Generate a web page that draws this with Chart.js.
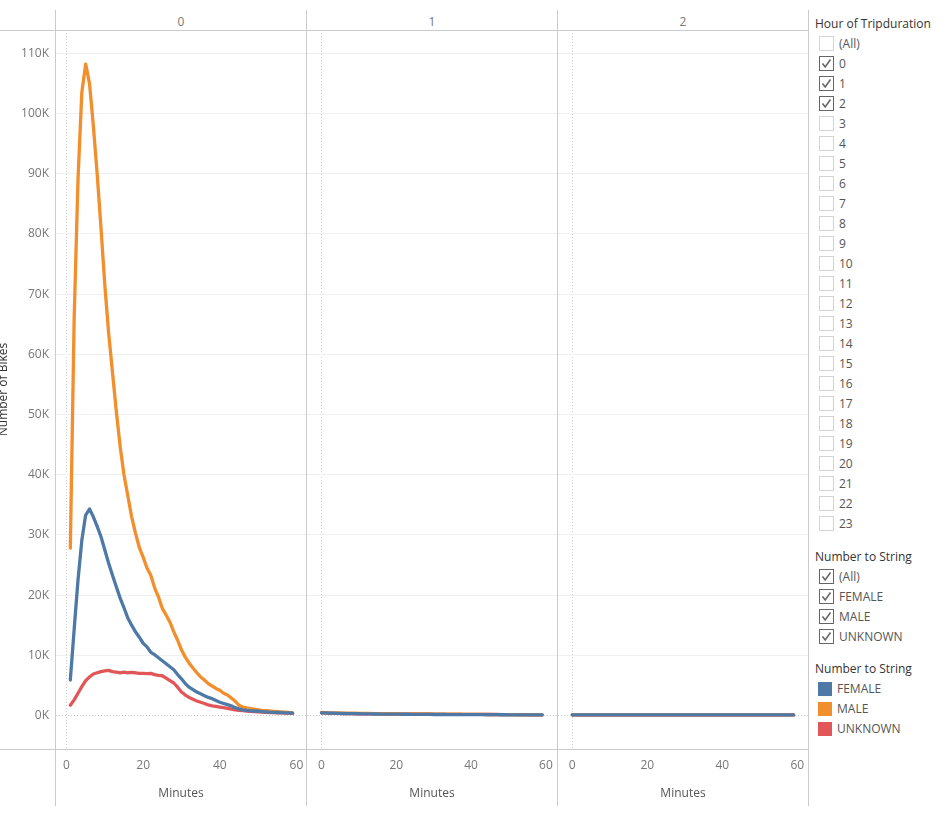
<!DOCTYPE html>
<html>
<head>
<meta charset="utf-8">
<title>Number of Bikes by Minutes</title>
<script src="https://cdn.jsdelivr.net/npm/chart.js@4"></script>
<style>
    html, body { margin: 0; padding: 0; background: #fff; overflow: hidden; width: 952px; height: 816px; }
    body { font-family: "Open Sans", sans-serif; font-size: 12px; color: #555; position: relative; }
    canvas { position: absolute; top: 0; }
    .vline { position: absolute; top: 10px; width: 1px; height: 796px; background: #cbcbcb; }
    .hline { position: absolute; left: 0; width: 808px; height: 1px; background: #cbcbcb; }
    .head { position: absolute; top: 13px; width: 250px; text-align: center; color: #777; }
    .title { position: absolute; left: 815px; color: #333; white-space: nowrap; line-height: 16px; }
    .row { position: absolute; left: 819px; height: 16px; line-height: 16px; white-space: nowrap; }
    .box { position: absolute; left: 0; top: 0; width: 13px; height: 13px; border: 1px solid #d4d4d4; background: #fff; }
    .box.on { border-color: #666; }
    .box svg { position: absolute; left: 0; top: 0; }
    .row span { position: absolute; left: 20px; top: 0; }
    .swatch { position: absolute; left: 818px; width: 14px; height: 14px; }
    .key { position: absolute; left: 837px; height: 16px; line-height: 16px; }
</style>
</head>
<body>
<div class="vline" style="left:55px"></div>
<div class="vline" style="left:306px"></div>
<div class="vline" style="left:557px"></div>
<div class="vline" style="left:808px"></div>
<div class="hline" style="top:30px"></div>
<div class="hline" style="top:749px"></div>
<div class="head" style="left:56px">0</div>
<div class="head" style="left:307px">1</div>
<div class="head" style="left:558px">2</div>

<canvas id="panel0" width="310" height="806" style="left:-4px"></canvas>
<canvas id="panel1" width="250" height="806" style="left:307px"></canvas>
<canvas id="panel2" width="250" height="806" style="left:558px"></canvas>

<script>
const seriesNames = ['FEMALE', 'MALE', 'UNKNOWN'];
const seriesColors = ['#4e79a7', '#f28e2b', '#e15759'];

const hourOptions = ['(All)', '0', '1', '2', '3', '4', '5', '6', '7', '8', '9', '10', '11',
    '12', '13', '14', '15', '16', '17', '18', '19', '20', '21', '22', '23'];
const hourChecked = ['0', '1', '2'];
const genderOptions = ['(All)', 'FEMALE', 'MALE', 'UNKNOWN'];

const yTickValues = [0, 10000, 20000, 30000, 40000, 50000, 60000, 70000, 80000, 90000, 100000, 110000];
const xTickValues = [0, 20, 40, 60];

const minutesHour0 = [1, 2, 3, 4, 5, 6, 7, 8, 9, 10, 11, 12, 13, 14, 15, 16, 17, 18, 19, 20,
    21, 22, 23, 24, 25, 26, 27, 28, 29, 30, 31, 32, 33, 34, 35, 36, 37, 38, 39, 40,
    41, 42, 43, 44, 45, 46, 47, 48, 49, 50, 51, 52, 53, 54, 55, 56, 57, 58, 59];
const minutesRest = [0, 1, 2, 3, 4, 5, 6, 7, 8, 9, 10, 11, 12, 13, 14, 15, 16, 17, 18, 19, 20,
    21, 22, 23, 24, 25, 26, 27, 28, 29, 30, 31, 32, 33, 34, 35, 36, 37, 38, 39, 40,
    41, 42, 43, 44, 45, 46, 47, 48, 49, 50, 51, 52, 53, 54, 55, 56, 57, 58, 59];

const femaleHour0 = [5900, 14300, 22500, 29100, 33300, 34300, 33000, 31400, 29700, 27500,
    25300, 23300, 21400, 19500, 17900, 16200, 15000, 13900, 13000, 12000,
    11400, 10500, 10100, 9600, 9100, 8600, 8100, 7600, 6800, 6100,
    5300, 4700, 4300, 3900, 3600, 3300, 3000, 2800, 2500, 2200,
    2000, 1800, 1600, 1300, 1100, 950, 850, 780, 750, 720,
    660, 600, 550, 520, 500, 480, 450, 430, 400];
const maleHour0 = [27800, 66000, 89000, 103500, 108200, 105000, 98000, 90000, 81000, 71500,
    63500, 57000, 50500, 44700, 40000, 36500, 33000, 30300, 27900, 26300,
    24500, 23300, 21200, 19700, 17800, 16700, 15500, 13900, 12500, 10900,
    9700, 8700, 7900, 7100, 6400, 5900, 5300, 4900, 4500, 4200,
    3700, 3400, 2900, 2400, 1700, 1400, 1250, 1150, 1050, 950,
    850, 800, 750, 700, 650, 600, 550, 500, 450];
const unknownHour0 = [1700, 2600, 3700, 4800, 5800, 6400, 6900, 7100, 7300, 7400,
    7500, 7300, 7200, 7100, 7200, 7100, 7150, 7100, 7000, 7000,
    6950, 7000, 6800, 6650, 6600, 6200, 5800, 5400, 4700, 3900,
    3400, 3000, 2700, 2400, 2200, 2000, 1750, 1600, 1500, 1400,
    1300, 1200, 1050, 950, 850, 800, 750, 700, 650, 600,
    570, 540, 500, 480, 450, 430, 400, 380, 350];

const femaleHour1 = [450, 420, 400, 380, 360, 340, 330, 320, 310, 300,
    290, 280, 270, 260, 250, 245, 240, 235, 230, 225,
    220, 215, 210, 205, 200, 195, 190, 185, 180, 175,
    170, 170, 165, 165, 160, 160, 155, 155, 150, 150,
    145, 145, 140, 140, 135, 135, 130, 130, 125, 125,
    120, 120, 115, 115, 110, 110, 105, 105, 100, 100];
const maleHour1 = [520, 490, 470, 450, 430, 410, 400, 390, 380, 370,
    360, 350, 340, 330, 320, 315, 310, 305, 300, 295,
    290, 285, 280, 275, 270, 265, 260, 255, 250, 245,
    240, 235, 230, 225, 220, 215, 210, 205, 200, 195,
    190, 185, 180, 175, 170, 165, 160, 155, 150, 145,
    140, 135, 130, 125, 120, 115, 110, 105, 100, 100];
const unknownHour1 = [430, 400, 380, 360, 345, 330, 320, 310, 300, 290,
    285, 275, 270, 265, 260, 255, 250, 245, 240, 235,
    230, 225, 220, 220, 215, 215, 210, 210, 205, 205,
    200, 200, 195, 195, 190, 190, 190, 185, 185, 185,
    180, 180, 175, 175, 170, 170, 165, 165, 160, 160,
    155, 150, 145, 140, 135, 130, 125, 120, 115, 110];

const femaleHour2 = [110, 110, 110, 110, 110, 110, 110, 110, 110, 110,
    110, 110, 110, 110, 110, 110, 110, 110, 110, 110,
    105, 105, 105, 105, 105, 105, 105, 105, 105, 105,
    100, 100, 100, 100, 100, 100, 100, 100, 100, 100,
    100, 100, 100, 100, 100, 100, 100, 100, 100, 100,
    95, 95, 95, 95, 95, 95, 95, 95, 95, 95];
const maleHour2 = [120, 120, 120, 120, 120, 120, 120, 120, 115, 115,
    115, 115, 115, 115, 115, 115, 110, 110, 110, 110,
    110, 110, 110, 110, 105, 105, 105, 105, 105, 105,
    105, 105, 100, 100, 100, 100, 100, 100, 100, 100,
    100, 100, 100, 100, 100, 100, 100, 100, 95, 95,
    95, 95, 95, 95, 95, 95, 95, 95, 95, 95];
const unknownHour2 = [110, 110, 110, 110, 105, 105, 105, 105, 105, 105,
    105, 105, 105, 105, 105, 105, 105, 105, 105, 105,
    100, 100, 100, 100, 100, 100, 100, 100, 100, 100,
    100, 100, 100, 100, 100, 100, 100, 100, 100, 100,
    95, 95, 95, 95, 95, 95, 95, 95, 95, 95,
    95, 95, 95, 95, 95, 95, 95, 95, 95, 95];

const yMin = -5565;
const yMax = 113870;

const FONT = '"Open Sans", sans-serif';
const TICK_COLOR = '#777';

function toPoints(minutes, values) {
    return minutes.map((m, i) => ({ x: m, y: values[i] }));
}

function createPanel(id, minutes, female, male, unknown, xMin, xMax, showY) {
    const ctx = document.getElementById(id).getContext('2d');
    const lists = [female, male, unknown];
    return new Chart(ctx, {
        type: 'line',
        data: {
            datasets: seriesNames.map((name, i) => ({
                label: name,
                data: toPoints(minutes, lists[i]),
                borderColor: seriesColors[i],
                backgroundColor: seriesColors[i],
                borderWidth: 3.3,
                pointRadius: 0,
                tension: 0,
                borderCapStyle: 'round',
                borderJoinStyle: 'round'
            }))
        },
        options: {
            responsive: false,
            animation: false,
            devicePixelRatio: 1,
            layout: { padding: { top: 30, left: 0, right: 0, bottom: 0 } },
            plugins: { legend: { display: false }, tooltip: { enabled: false } },
            scales: {
                x: {
                    type: 'linear',
                    min: xMin,
                    max: xMax,
                    afterBuildTicks: axis => { axis.ticks = xTickValues.map(v => ({ value: v })); },
                    afterFit: axis => {
                        axis.height = 57;
                        axis.paddingLeft = 0;
                        axis.paddingRight = 0;
                    },
                    border: { display: false, dash: [1, 2] },
                    grid: {
                        drawTicks: false,
                        color: c => (c.tick && c.tick.value === 0) ? '#cfcfcf' : 'rgba(0,0,0,0)'
                    },
                    ticks: {
                        autoSkip: false,
                        maxRotation: 0,
                        padding: 9,
                        color: TICK_COLOR,
                        font: { family: FONT, size: 12 }
                    },
                    title: {
                        display: true,
                        text: 'Minutes',
                        color: '#555',
                        padding: { top: 0, bottom: 5 },
                        font: { family: FONT, size: 12 }
                    }
                },
                y: {
                    min: yMin,
                    max: yMax,
                    afterBuildTicks: axis => { axis.ticks = yTickValues.map(v => ({ value: v })); },
                    afterFit: axis => {
                        axis.width = showY ? 60 : 0;
                        axis.paddingTop = 0;
                        axis.paddingBottom = 0;
                    },
                    border: {
                        display: false,
                        dash: c => (c.tick && c.tick.value === 0) ? [1, 2] : []
                    },
                    grid: {
                        drawTicks: false,
                        color: c => (c.tick && c.tick.value === 0) ? '#c4c4c4' : '#f0f0f0'
                    },
                    ticks: {
                        display: showY,
                        autoSkip: false,
                        padding: 7,
                        color: TICK_COLOR,
                        font: { family: FONT, size: 12 },
                        callback: v => (v / 1000) + 'K'
                    },
                    title: {
                        display: showY,
                        text: 'Number of Bikes',
                        color: '#333',
                        padding: 0,
                        font: { family: FONT, size: 12 }
                    }
                }
            }
        }
    });
}

createPanel('panel0', minutesHour0, femaleHour0, maleHour0, unknownHour0, -2.74, 62.5, true);
createPanel('panel1', minutesRest, femaleHour1, maleHour1, unknownHour1, -3.88, 62.97, false);
createPanel('panel2', minutesRest, femaleHour2, maleHour2, unknownHour2, -3.81, 62.85, false);

// filter cards and colour legend on the right
const CHECK = '<svg width="13" height="13" viewBox="0 0 13 13"><path d="M2.5 6.5 L5.2 10 L10.5 2.5" fill="none" stroke="#666" stroke-width="1.6"/></svg>';

function addText(cls, text, top) {
    const el = document.createElement('div');
    el.className = cls;
    el.textContent = text;
    el.style.top = top + 'px';
    document.body.appendChild(el);
    return el;
}

function addCheckRow(text, top, on) {
    const row = document.createElement('div');
    row.className = 'row';
    row.style.top = top + 'px';
    const box = document.createElement('div');
    box.className = on ? 'box on' : 'box';
    if (on) box.innerHTML = CHECK;
    const label = document.createElement('span');
    label.textContent = text;
    row.appendChild(box);
    row.appendChild(label);
    document.body.appendChild(row);
}

addText('title', 'Hour of Tripduration', 16);
hourOptions.forEach((h, i) => addCheckRow(h, 36 + i * 20, hourChecked.includes(h)));

addText('title', 'Number to String', 549);
genderOptions.forEach((g, i) => addCheckRow(g, 569 + i * 20, true));

addText('title', 'Number to String', 661);
seriesNames.forEach((name, i) => {
    const sw = document.createElement('div');
    sw.className = 'swatch';
    sw.style.top = (682 + i * 20) + 'px';
    sw.style.background = seriesColors[i];
    document.body.appendChild(sw);
    addText('key', name, 681 + i * 20);
});
</script>
</body>
</html>
